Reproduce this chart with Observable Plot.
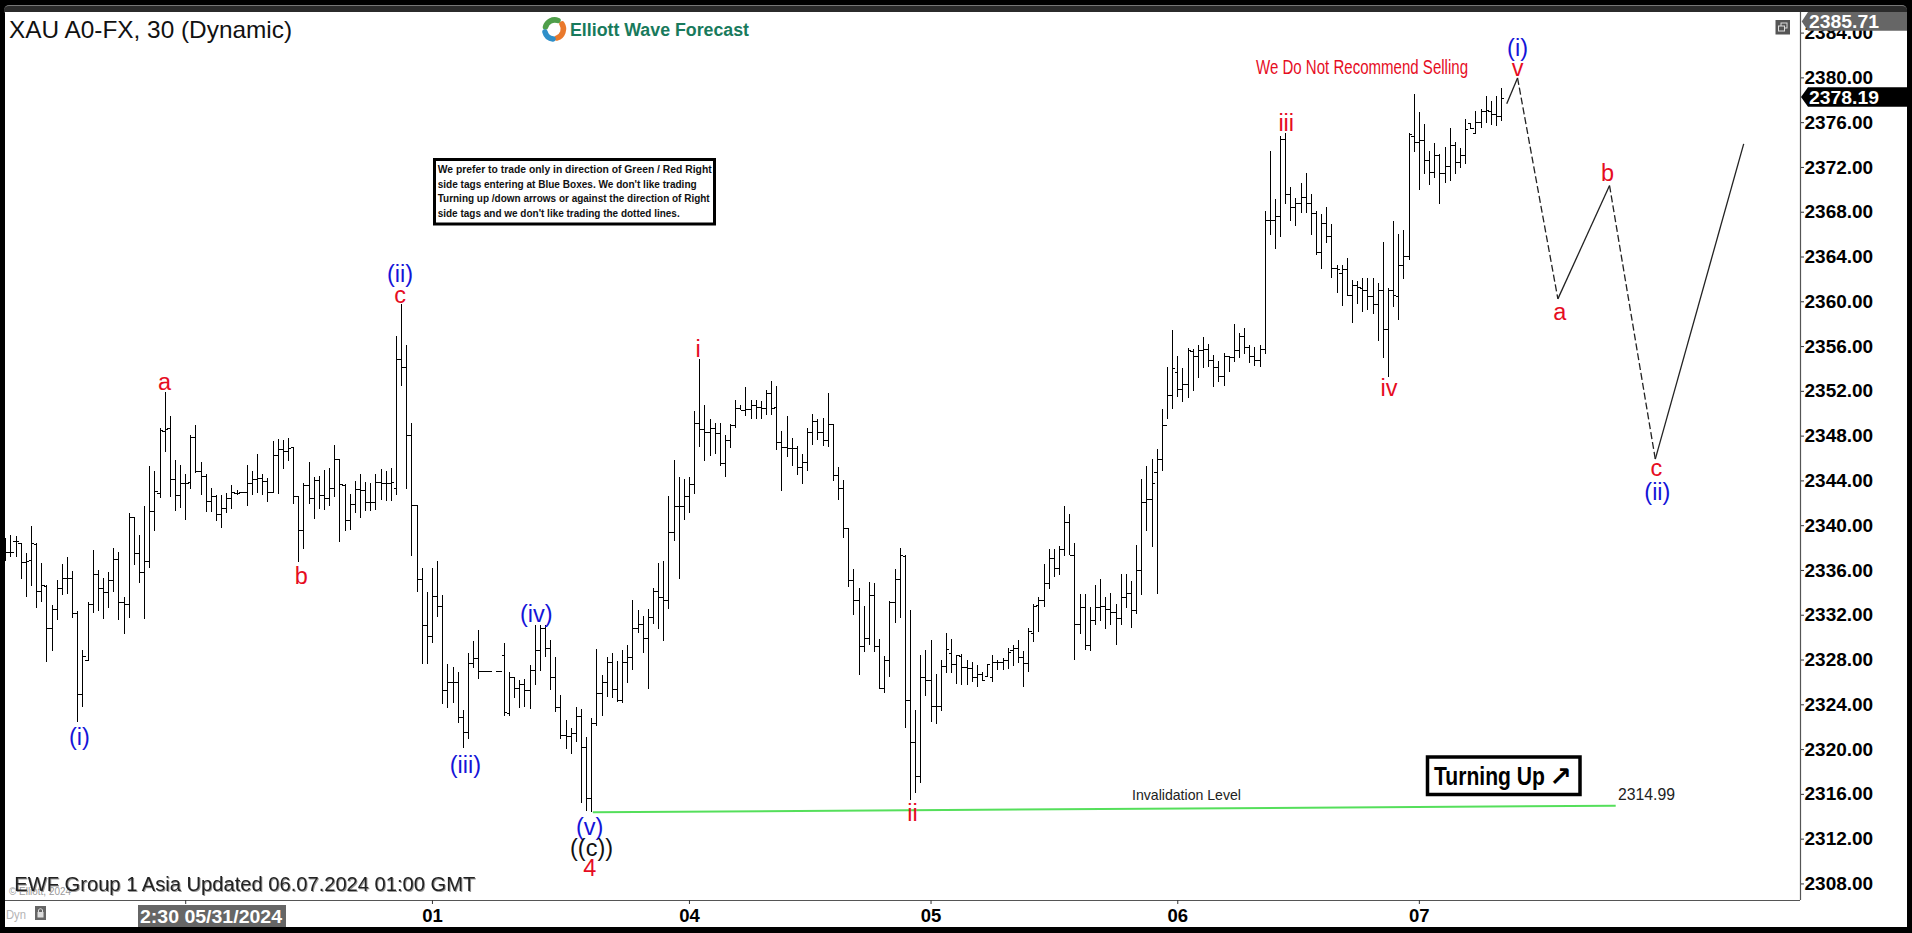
<!DOCTYPE html>
<html>
<head>
<meta charset="utf-8">
<script src="https://cdn.jsdelivr.net/npm/d3@7"></script>
<script src="https://cdn.jsdelivr.net/npm/@observablehq/plot@0.6"></script>
<style>
html,body{margin:0;padding:0;background:#000;overflow:hidden}
#stage{position:relative;width:1912px;height:933px;background:#000;overflow:hidden}
#chrome{position:absolute;left:4px;top:5px;width:1903px;height:8px;background:#2b2b2b;border-top:1px solid #777;border-radius:5px 5px 0 0;box-sizing:border-box}
#paper{position:absolute;left:5px;top:12px;width:1902px;height:915px;background:#fff}
#chart{position:absolute;left:0;top:0}
#chart svg{display:block;overflow:visible}
</style>
</head>
<body>
<div id="stage"><div id="chrome"></div><div id="paper"></div><div id="chart"></div></div>
<script>
const highs=[2338.9,2339.1,2339.0,2338.4,2337.5,2339.9,2338.4,2336.6,2334.65,2332.9,2335.1,2336.5,2337.15,2335.9,2332.3,2328.85,2333.1,2337.8,2336.0,2335.3,2335.8,2338.0,2337.6,2333.55,2341.05,2340.7,2339.1,2341.75,2345.3,2344.8,
2348.65,2351.9,2349.75,2345.8,2345.35,2344.6,2348.1,2348.95,2345.6,2344.6,2343.3,2342.7,2342.7,2342.85,2343.55,2343.15,2343.0,2345.35,2344.85,2346.4,2344.55,2344.2,2347.5,2347.7,2347.6,2347.75,2347.0,2342.65,2343.75,2345.6,
2344.3,2344.4,2344.9,2345.15,2347.15,2345.9,2343.65,2342.75,2343.95,2344.55,2343.9,2343.8,2344.55,2345.0,2344.85,2345.15,2356.9,2359.75,2356.1,2349.1,2341.8,2336.2,2334.0,2336.15,2336.8,2333.8,2327.6,2327.3,2326.85,2323.5,
2328.55,2329.65,2330.6,2327.0,2327.0,null,2327.0,2329.5,2326.85,2326.4,2326.15,2326.3,2327.5,2331.05,2331.05,2331.05,2329.75,2328.25,2324.8,2322.6,2321.9,2323.8,2323.6,2321.1,2322.8,2328.9,2326.65,2328.2,2328.55,2327.85,
2328.85,2329.3,2333.3,2332.4,2331.85,2332.55,2334.4,2336.65,2336.8,2342.65,2345.8,2344.3,2344.15,2344.3,2350.2,2354.85,2350.7,2349.45,2349.15,2349.15,2348.05,2349.0,2351.15,2350.7,2352.35,2351.15,2351.15,2351.05,2352.1,2352.85,
2352.4,2348.4,2349.75,2347.75,2347.05,2346.4,2348.7,2349.9,2349.5,2349.6,2351.85,2349.05,2345.2,2344.0,2339.75,2336.05,2334.35,2332.8,2334.9,2334.8,2329.8,2328.3,2333.2,2336.05,2338.0,2337.3,2332.45,2323.5,2328.4,2328.85,
2329.75,2326.7,2328.0,2330.4,2329.85,2328.4,2328.45,2328.0,2327.75,2327.5,2326.9,2327.6,2328.4,2328.0,2328.1,2329.0,2329.3,2329.75,2328.75,2330.85,2333.0,2333.6,2336.5,2337.9,2337.9,2338.15,2341.7,2341.0,2338.45,2333.85,
2333.85,2332.7,2334.65,2335.2,2333.6,2333.95,2333.0,2335.6,2335.6,2335.0,2338.2,2344.1,2345.3,2345.95,2346.8,2350.35,2354.1,2357.45,2355.1,2354.05,2355.8,2355.7,2356.1,2356.8,2356.15,2355.2,2354.65,2355.35,2355.1,2357.95,
2357.15,2357.6,2356.1,2355.9,2356.1,2368.05,2373.4,2369.1,2374.75,2375.0,2370.2,2369.2,2370.55,2371.45,2369.6,2368.05,2367.8,2368.4,2366.9,2363.25,2363.25,2363.9,2361.9,2361.8,2362.05,2362.05,2362.05,2361.6,2365.3,2361.15,
2367.15,2366.0,2366.35,2375.0,2378.5,2376.9,2375.85,2373.45,2374.1,2373.2,2373.75,2375.45,2374.2,2373.65,2376.3,2375.9,2377.0,2377.15,2378.3,2377.85,2378.35,2379.05];
const lows=[2336.8,2337.2,2337.2,2335.2,2333.6,2334.6,2332.6,2333.1,2327.8,2328.8,2331.5,2333.8,2333.85,2331.7,2322.4,2323.8,2327.9,2332.2,2332.3,2331.6,2332.6,2334.0,2331.5,2330.3,2331.7,2336.4,2334.85,2331.65,2336.2,2339.5,
2342.45,2346.55,2342.55,2341.3,2341.55,2340.45,2343.25,2344.7,2342.7,2341.2,2341.15,2340.4,2339.75,2341.1,2341.45,2342.7,2342.9,2341.75,2342.7,2342.9,2342.7,2342.1,2342.85,2342.75,2345.05,2345.75,2341.9,2336.75,2337.9,2341.9,
2340.55,2341.45,2341.4,2341.75,2342.55,2338.5,2339.5,2339.6,2341.1,2340.65,2341.3,2341.25,2341.35,2342.25,2342.2,2342.15,2342.7,2352.45,2343.2,2337.25,2334.05,2327.6,2327.6,2329.5,2331.8,2324.0,2323.7,2324.15,2322.3,2320.1,
2320.9,2327.2,2326.3,2327.0,2327.0,null,2327.0,2323.0,2323.0,2324.55,2323.7,2323.8,2323.6,2325.75,2327.0,2328.25,2325.25,2323.3,2320.9,2320.0,2319.55,2320.65,2315.2,2314.5,2314.35,2322.1,2323.0,2324.65,2324.55,2324.2,
2324.15,2325.9,2327.1,2330.4,2328.6,2325.4,2331.15,2330.7,2329.65,2332.55,2338.55,2335.15,2340.5,2341.05,2342.8,2347.0,2345.75,2346.2,2346.35,2345.25,2344.3,2346.85,2348.65,2350.25,2349.75,2349.5,2349.45,2349.45,2349.8,2349.8,
2346.75,2343.05,2346.05,2345.25,2344.45,2343.7,2344.85,2347.15,2347.65,2347.05,2347.0,2343.95,2342.25,2338.85,2334.5,2332.0,2326.65,2328.7,2329.3,2328.7,2325.4,2325.0,2326.45,2331.3,2331.7,2321.9,2315.45,2316.1,2317.0,2324.75,
2322.45,2322.2,2323.4,2326.8,2326.8,2325.8,2325.75,2325.75,2325.95,2325.55,2326.15,2326.5,2325.95,2327.05,2327.05,2327.15,2327.4,2327.65,2325.55,2326.9,2329.6,2330.45,2332.7,2334.3,2335.35,2335.55,2337.25,2337.3,2328.0,2330.3,
2328.85,2328.8,2331.1,2331.45,2330.7,2331.05,2329.3,2331.05,2332.6,2330.85,2332.1,2333.75,2339.5,2338.05,2333.85,2344.85,2349.45,2350.35,2351.45,2351.0,2351.4,2351.95,2353.15,2354.0,2354.15,2352.3,2352.8,2352.45,2353.7,2354.6,
2354.9,2355.3,2354.45,2354.2,2354.1,2355.25,2365.95,2364.7,2365.75,2368.7,2367.2,2366.7,2367.85,2367.85,2365.95,2364.1,2362.9,2365.25,2362.05,2360.7,2359.6,2360.5,2358.05,2359.8,2359.05,2359.2,2358.85,2356.45,2354.95,2353.25,
2359.5,2358.35,2362.0,2363.7,2373.35,2369.95,2371.35,2370.4,2371.0,2368.7,2370.55,2370.75,2371.35,2371.95,2372.25,2375.4,2375.0,2375.45,2375.9,2375.75,2375.65,2376.1];
const opens=[2337.6,2337.6,2338.55,2338.4,2336.7,2336.9,2338.3,2334.1,2334.6,2330.8,2332.5,2334.35,2335.3,2335.3,2332.2,2324.9,2328.0,2333.0,2335.6,2334.35,2334.0,2335.1,2337.0,2333.1,2333.0,2340.7,2337.5,2335.85,2336.8,2341.3,
2342.9,2348.45,2348.65,2344.1,2342.7,2343.8,2343.9,2347.9,2344.8,2344.35,2342.2,2342.65,2341.0,2341.55,2342.4,2342.85,2342.95,2342.95,2343.8,2344.1,2344.2,2343.95,2342.95,2346.25,2346.8,2346.65,2346.95,2342.6,2339.6,2343.6,
2342.45,2344.05,2342.7,2342.4,2343.3,2345.9,2343.6,2340.45,2341.85,2343.2,2343.15,2342.1,2342.1,2343.9,2343.75,2343.75,2343.3,2354.85,2354.1,2348.05,2341.8,2335.15,2331.1,2330.1,2333.65,2332.8,2325.25,2325.95,2326.0,2322.9,
2321.5,2327.65,2328.1,2327.0,2327.0,null,2327.0,2328.4,2323.25,2326.4,2325.5,2325.85,2325.25,2327.05,2328.85,2330.8,2329.0,2326.45,2323.8,2321.3,2321.2,2321.4,2322.95,2320.2,2315.65,2322.35,2325.0,2326.0,2327.75,2325.4,
2324.35,2327.75,2328.25,2330.8,2331.2,2329.9,2331.8,2334.1,2333.6,2333.35,2339.4,2341.7,2341.75,2342.65,2343.65,2349.1,2348.55,2348.35,2348.65,2348.25,2345.55,2347.65,2348.95,2350.5,2350.25,2350.35,2350.7,2350.55,2350.5,2351.8,
2350.55,2347.4,2347.0,2346.85,2346.85,2345.2,2345.65,2348.35,2349.3,2348.3,2347.65,2349.0,2344.45,2343.3,2339.75,2335.1,2333.3,2329.2,2329.9,2333.8,2329.2,2325.45,2327.95,2333.1,2335.15,2337.25,2324.4,2320.6,2317.6,2326.4,
2326.15,2323.85,2323.85,2327.45,2328.6,2327.6,2328.3,2327.35,2327.25,2326.45,2326.75,2326.5,2326.45,2327.75,2327.75,2327.95,2328.85,2329.0,2328.2,2327.7,2330.4,2332.85,2333.3,2334.85,2337.05,2336.15,2337.9,2340.25,2337.35,2331.2,
2332.7,2329.3,2331.55,2332.7,2332.75,2332.55,2332.25,2331.75,2333.6,2333.9,2332.45,2336.0,2342.1,2342.3,2344.75,2345.95,2348.95,2351.65,2353.65,2352.2,2352.65,2355.55,2355.15,2355.65,2355.75,2354.75,2354.1,2353.3,2355.15,2355.05,
2355.65,2356.9,2355.95,2355.1,2354.75,2355.75,2367.25,2367.3,2367.6,2374.5,2369.55,2368.4,2368.8,2369.35,2368.8,2367.85,2364.4,2366.95,2365.8,2362.95,2362.5,2362.85,2360.55,2361.45,2361.2,2361.0,2360.45,2359.75,2361.0,2357.55,
2361.0,2360.45,2363.25,2364.05,2374.75,2374.2,2374.4,2372.6,2371.55,2373.1,2371.45,2372.05,2374.0,2372.45,2373.1,2375.9,2375.0,2376.0,2377.0,2377.0,2376.7,2376.55];
const closes=[2337.6,2337.6,2338.55,2336.7,2336.8,2338.4,2334.1,2334.65,2330.8,2332.5,2334.35,2335.3,2335.3,2332.2,2324.9,2328.3,2333.0,2335.6,2334.35,2334.0,2335.1,2337.0,2333.1,2333.0,2340.75,2337.5,2335.85,2336.8,2341.3,2343.05,
2348.5,2348.55,2344.1,2342.7,2343.8,2343.8,2347.9,2344.8,2344.35,2342.2,2342.65,2341.0,2341.55,2342.4,2343.0,2342.85,2342.95,2343.8,2344.1,2344.2,2343.95,2342.95,2346.25,2346.8,2346.65,2346.9,2342.6,2339.6,2343.6,2342.45,
2344.05,2342.7,2342.4,2343.3,2345.9,2343.65,2340.45,2341.85,2343.2,2343.15,2342.1,2342.1,2343.9,2343.75,2343.75,2343.9,2354.85,2354.1,2348.05,2341.8,2335.15,2331.1,2330.1,2333.65,2332.8,2325.25,2325.95,2326.0,2322.9,2321.5,
2327.65,2328.1,2327.0,2327.0,2327.0,null,2327.0,2323.3,2326.4,2325.5,2325.85,2325.25,2327.05,2328.85,2330.8,2329.0,2326.45,2323.8,2321.3,2321.2,2321.4,2322.95,2320.2,2315.65,2322.35,2325.0,2326.0,2327.75,2325.4,2324.35,
2327.75,2328.25,2330.8,2331.2,2329.9,2331.8,2334.1,2333.6,2333.35,2339.4,2341.7,2341.75,2342.65,2343.65,2349.1,2348.55,2348.35,2348.65,2348.25,2345.55,2347.65,2348.95,2350.5,2350.25,2350.35,2350.7,2350.55,2350.5,2351.8,2350.5,
2347.4,2347.0,2346.85,2346.85,2345.2,2345.65,2348.35,2349.3,2348.3,2347.65,2349.0,2344.45,2343.3,2339.75,2335.1,2333.3,2329.2,2329.9,2333.8,2329.2,2325.45,2327.95,2333.1,2335.15,2337.3,2324.4,2320.6,2317.6,2326.4,2326.15,
2323.85,2323.85,2327.45,2328.9,2327.6,2328.4,2327.35,2327.25,2326.45,2326.75,2326.15,2327.6,2327.75,2327.75,2327.95,2328.7,2329.0,2328.2,2327.7,2330.55,2332.8,2333.3,2334.85,2337.05,2336.15,2337.9,2340.25,2337.35,2331.2,2332.7,
2329.3,2331.55,2332.7,2332.75,2332.55,2332.25,2331.75,2333.6,2333.9,2332.45,2336.0,2342.1,2342.3,2343.8,2345.95,2348.95,2351.6,2354.0,2352.2,2352.65,2355.65,2355.15,2355.65,2355.75,2354.75,2354.1,2353.3,2355.15,2355.05,2355.65,
2356.9,2355.95,2355.1,2354.75,2355.75,2367.25,2367.3,2367.6,2374.5,2369.55,2368.4,2368.8,2369.35,2368.8,2367.85,2364.4,2366.95,2365.8,2362.95,2362.9,2362.85,2360.55,2361.45,2361.3,2361.0,2360.45,2359.75,2361.0,2357.55,2361.0,
2360.55,2363.25,2364.05,2374.95,2374.2,2374.4,2372.6,2371.55,2373.1,2371.45,2372.05,2374.0,2372.45,2373.1,2375.35,2375.45,2376.0,2377.0,2377.1,2376.7,2376.55,2378.2];

const priceTicks=d3.range(2308,2385,4);
const dayTickBars=[35,83,133,180,228,275];
const dayTickLabels=["","01","04","05","06","07"];

const waveBars=[292,294.1,301.95,312,320.9,338.1];
const wavePrices=[2377.68,2380,2360.26,2370.38,2345.95,2374.1];
const waveDashed=[false,true,false,true,false];

const invalidationBars=[114.2,313.2];
const invalidationPrices=[2314.4,2314.99];

const labelTexts=["(i)","a","b","(ii)","c","(iii)","(iv)","(v)","((c))","4","i","ii","iii","iv","v","(i)","a","b","c","(ii)"];
const labelDegrees=["minute","minor","minor","minute","minor","minute","minute","minute","primary","minor","minor","minor","minor","minor","minor","minute","minor","minor","minor","minute"];
const labelBars=[14.3,30.9,57.5,76.7,76.7,89.4,103.2,113.6,113.95,113.6,134.7,176.4,249.1,269.1,294.1,294.1,302.3,311.6,321.1,321.3];
const labelPrices=[2321.1,2352.8,2335.45,2362.4,2360.6,2318.6,2332.1,2313.0,2311.15,2309.35,2355.7,2314.3,2375.9,2352.3,2380.8,2382.65,2359.05,2371.5,2345.1,2343.0];

const noteLines=["We prefer to trade only in direction of Green / Red Right","side tags entering at Blue Boxes. We don't like trading","Turning up /down arrows or against the direction of Right","side tags and we don't like trading the dotted lines."];

const bars=highs.map((h,i)=>({i,h,l:lows[i],o:opens[i],c:closes[i]})).filter(d=>d.h!=null);
const waveSegments=waveDashed.map((dashed,k)=>({x1:waveBars[k],y1:wavePrices[k],x2:waveBars[k+1],y2:wavePrices[k+1],dashed}));
const labels=labelTexts.map((text,k)=>({text,degree:labelDegrees[k],x:labelBars[k],y:labelPrices[k]}));
const xMax=349.15, yMin=2306.52, yMax=2385.84;

const tickHalf=0.55;
const svg=Plot.plot({
  width:1912,height:933,
  marginLeft:5,marginRight:112,marginTop:12,marginBottom:33,
  style:{background:"transparent",fontFamily:"'Liberation Sans',Arial,sans-serif",overflow:"visible"},
  x:{domain:[-0.06,xMax]},
  y:{domain:[yMin,yMax]},
  color:{domain:["minor","minute","primary"],range:["#e60d1f","#1414d8","#111111"]},
  marks:[
    Plot.ruleX([xMax],{stroke:"#555",strokeWidth:1.2}),
    Plot.ruleY([yMin],{stroke:"#555",strokeWidth:1.2}),
    Plot.axisY({anchor:"right",ticks:priceTicks,tickFormat:d=>d.toFixed(2),tickSize:3,tickPadding:1,label:null,fontSize:19,fontWeight:"bold",color:"#000",stroke:"#333",strokeOpacity:1}),
    Plot.axisX({anchor:"bottom",ticks:dayTickBars,tickFormat:d=>dayTickLabels[dayTickBars.indexOf(d)],tickSize:4,tickPadding:4,label:null,fontSize:18.5,fontWeight:"bold",color:"#000",stroke:"#333",strokeOpacity:1}),
    Plot.link([{x1:invalidationBars[0],y1:invalidationPrices[0],x2:invalidationBars[1],y2:invalidationPrices[1]}],{x1:"x1",y1:"y1",x2:"x2",y2:"y2",stroke:"#55df5b",strokeWidth:2}),
    Plot.ruleX(bars,{x:"i",y1:"l",y2:"h",stroke:"#000",strokeWidth:1,shapeRendering:"crispEdges"}),
    Plot.link(bars,{x1:d=>d.i-tickHalf,x2:"i",y1:"o",y2:"o",stroke:"#000",strokeWidth:1,shapeRendering:"crispEdges"}),
    Plot.link(bars,{x1:"i",x2:d=>d.i+tickHalf,y1:"c",y2:"c",stroke:"#000",strokeWidth:1,shapeRendering:"crispEdges"}),
    Plot.link(waveSegments.filter(d=>!d.dashed),{x1:"x1",y1:"y1",x2:"x2",y2:"y2",stroke:"#222",strokeWidth:1.3}),
    Plot.link(waveSegments.filter(d=>d.dashed),{x1:"x1",y1:"y1",x2:"x2",y2:"y2",stroke:"#222",strokeWidth:1.3,strokeDasharray:"7,3"}),
    Plot.text(labels,{x:"x",y:"y",text:"text",fill:"degree",fontSize:23.5})
  ]
});

/* page furniture drawn on top of the plot */
const s=d3.select(svg);
const sans="'Liberation Sans',Arial,sans-serif";
function label(text,x,y,opt={}){
  const t=s.append("text").attr("x",x).attr("y",y).text(text)
    .attr("font-family",opt.family||sans).attr("font-size",opt.size||14)
    .attr("font-weight",opt.weight||"normal").attr("fill",opt.fill||"#000")
    .attr("text-anchor",opt.anchor||"start");
  if(opt.len){t.attr("textLength",opt.len).attr("lengthAdjust","spacingAndGlyphs");}
  if(opt.style){t.attr("style",opt.style);}
  return t;
}
label("XAU A0-FX, 30 (Dynamic)",9,38,{size:24,len:283,fill:"#111"});

/* logo */
const logo=s.append("g").attr("fill","none").attr("stroke-width",5.5).attr("stroke-linecap","round");
logo.append("path").attr("d","M545.5 27 A9.5 9.5 0 0 1 558 20.5").attr("stroke","#4f9e4a");
logo.append("path").attr("d","M562 24 A9.5 9.5 0 0 1 557 38").attr("stroke","#e9792c");
logo.append("path").attr("d","M553 39 A9.5 9.5 0 0 1 545 32").attr("stroke","#2f8fc9");
label("Elliott Wave Forecast",570,36,{size:18,weight:"bold",len:179,fill:"#187a5c"});

/* note box */
s.append("rect").attr("x",434.5).attr("y",159.5).attr("width",280).attr("height",64.5).attr("fill","#fff").attr("stroke","#000").attr("stroke-width",3);
const noteY=[173,188,202,217], noteW=[274,259,272,242];
noteLines.forEach((t,k)=>label(t,437.7,noteY[k],{size:11.5,weight:"bold",len:noteW[k],fill:"#111"}));

/* annotations */
label("We Do Not Recommend Selling",1256,73.5,{size:20,len:212,fill:"#e60d1f"});
label("Invalidation Level",1132,800,{size:15,len:109,fill:"#222"});
label("2314.99",1618,800,{size:16,len:57,fill:"#222"});

/* Turning Up box */
s.append("rect").attr("x",1427.5).attr("y",757).attr("width",152.5).attr("height",37.5).attr("fill","#fff").attr("stroke","#000").attr("stroke-width",3.5);
label("Turning Up",1434,785,{size:26,weight:"bold",len:111,fill:"#000"});
label("\u2197",1549,786,{size:27,weight:"bold",family:"'DejaVu Sans',sans-serif",fill:"#000"});

/* bottom strip */
label("\u00a9 Elliott, 2024",9,895,{size:10.5,len:62,fill:"#9a9a9a"});
label("EWF Group 1 Asia Updated 06.07.2024 01:00 GMT",14.3,891,{size:20.5,len:461,fill:"#222",style:"filter:drop-shadow(1.5px 1.5px 0.4px #999)"});
label("Dyn",6,919,{size:13,len:20,fill:"#b5b5b5"});
s.append("rect").attr("x",35).attr("y",906).attr("width",11).attr("height",14).attr("fill","#666");
s.append("rect").attr("x",37.5).attr("y",912).attr("width",6).attr("height",5.5).attr("fill","#ddd");
s.append("path").attr("d","M38.5 912 V910 A2.2 2.2 0 0 1 42.5 910 V912").attr("fill","none").attr("stroke","#ddd");
s.append("rect").attr("x",138).attr("y",905).attr("width",148).attr("height",22).attr("fill","#666");
label("2:30 05/31/2024",140,923,{size:19,weight:"bold",len:142,fill:"#fff"});

/* right side price tags */
s.append("polygon").attr("points","1801.7,21.5 1808,12 1907,12 1907,30.7 1808,30.7").attr("fill","#666");
label("2385.71",1809,28,{size:19,weight:"bold",len:70,fill:"#fff"});
s.append("polygon").attr("points","1801,97 1808,87.3 1907,87.3 1907,106.7 1808,106.7").attr("fill","#000");
label("2378.19",1809,104,{size:19,weight:"bold",len:70,fill:"#fff"});

/* window button */
s.append("rect").attr("x",1775.5).attr("y",20).attr("width",14.5).attr("height",14.5).attr("fill","#555");
s.append("rect").attr("x",1781).attr("y",23).attr("width",6).attr("height",5).attr("fill","none").attr("stroke","#ddd");
s.append("rect").attr("x",1778.5).attr("y",26).attr("width",6).attr("height",5).attr("fill","#555").attr("stroke","#ddd");

document.getElementById("chart").appendChild(svg);
</script>
</body>
</html>
